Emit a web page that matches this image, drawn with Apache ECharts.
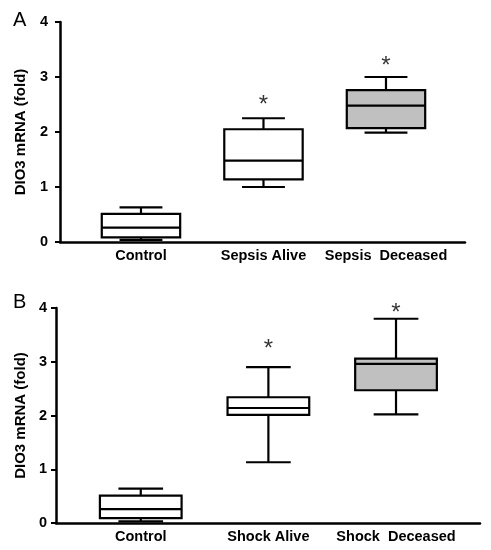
<!DOCTYPE html>
<html>
<head>
<meta charset="utf-8">
<script src="https://cdn.jsdelivr.net/npm/echarts@6/dist/echarts.min.js"></script>
<style>
  html, body { margin: 0; padding: 0; background: #fff; }
  #main { width: 491px; height: 550px; }
</style>
</head>
<body>
<div id="main"></div>
<script>
// panel A: sepsis outcome
var categoriesA = ['Control', 'Sepsis Alive', 'Sepsis  Deceased'];
// [low whisker, Q1, median, Q3, high whisker]
var statsA = [
  [0.04, 0.085, 0.26, 0.51, 0.63],
  [1.0, 1.14, 1.48, 2.05, 2.25],
  [1.99, 2.07, 2.48, 2.76, 3.0]
];
var starsA = [[1, 2.55], [2, 3.27]];

// panel B: septic shock outcome
var categoriesB = ['Control', 'Shock Alive', 'Shock  Deceased'];
var statsB = [
  [0.03, 0.09, 0.26, 0.51, 0.64],
  [1.13, 2.01, 2.14, 2.34, 2.9],
  [2.02, 2.47, 2.96, 3.06, 3.8]
];
var starsB = [[1, 3.3], [2, 3.97]];

var boxFills = ['#ffffff', '#ffffff', '#c0c0c0'];
var yTicks = [0, 1, 2, 3, 4];

var FONT = 'Liberation Sans, Arial, sans-serif';

function toRows(stats) {
  return stats.map(function (s, i) { return [i].concat(s); });
}

function renderBox(params, api) {
  var x = api.value(0);
  var lo = api.coord([x, api.value(1)]);
  var q1 = api.coord([x, api.value(2)]);
  var md = api.coord([x, api.value(3)]);
  var q3 = api.coord([x, api.value(4)]);
  var hi = api.coord([x, api.value(5)]);
  var unit = api.size([1, 0])[0];
  var bw = unit * 0.64, cw = unit * 0.35;
  var cx = lo[0];
  var st = { stroke: '#000', lineWidth: 2.2 };
  return {
    type: 'group',
    children: [
      { type: 'line', shape: { x1: cx, y1: q3[1], x2: cx, y2: hi[1] }, style: st },
      { type: 'line', shape: { x1: cx, y1: q1[1], x2: cx, y2: lo[1] }, style: st },
      { type: 'line', shape: { x1: cx - cw / 2, y1: hi[1], x2: cx + cw / 2, y2: hi[1] }, style: st },
      { type: 'line', shape: { x1: cx - cw / 2, y1: lo[1], x2: cx + cw / 2, y2: lo[1] }, style: st },
      { type: 'rect', shape: { x: cx - bw / 2, y: q3[1], width: bw, height: q1[1] - q3[1] },
        style: { fill: boxFills[params.dataIndex], stroke: '#000', lineWidth: 2.2 } },
      { type: 'line', shape: { x1: cx - bw / 2, y1: md[1], x2: cx + bw / 2, y2: md[1] }, style: st }
    ]
  };
}

function xAxisFor(idx, cats, min, max) {
  return {
    gridIndex: idx, type: 'value', min: min, max: max,
    axisLine: { show: true, onZero: false, lineStyle: { color: '#000', width: 2.5 } },
    axisTick: { show: false },
    splitLine: { show: false },
    axisLabel: {
      customValues: [0, 1, 2],
      formatter: function (v) { return cats[Math.round(v)]; },
      color: '#000', fontWeight: 'bold', fontSize: 14.5, fontFamily: FONT, margin: 6
    }
  };
}

function yAxisFor(idx, gap, labelMargin) {
  return {
    gridIndex: idx, type: 'value', min: yTicks[0], max: yTicks[yTicks.length - 1], interval: 1,
    name: 'DIO3 mRNA (fold)', nameLocation: 'middle', nameGap: gap,
    nameTextStyle: { color: '#000', fontWeight: 'bold', fontSize: 15, fontFamily: FONT },
    axisLine: { show: true, onZero: false, lineStyle: { color: '#000', width: 2.5 } },
    axisTick: { show: true, length: 5, lineStyle: { color: '#000', width: 2 } },
    splitLine: { show: false },
    axisLabel: { color: '#000', fontWeight: 'bold', fontSize: 14.5, fontFamily: FONT, margin: labelMargin }
  };
}

function starSeries(idx, pts) {
  return {
    type: 'scatter', xAxisIndex: idx, yAxisIndex: idx, data: pts,
    symbolSize: 1, itemStyle: { color: 'rgba(0,0,0,0)' }, silent: true,
    label: { show: true, position: 'inside', formatter: '*', color: '#000',
             fontSize: 24, fontFamily: FONT, offset: [0, 4] }
  };
}

var chart = echarts.init(document.getElementById('main'), null, { renderer: 'canvas' });
chart.setOption({
  backgroundColor: '#fff',
  animation: false,
  title: [
    { text: 'A', left: 8, top: 5, textStyle: { fontSize: 20, fontWeight: 'normal', color: '#000', fontFamily: FONT } },
    { text: 'B', left: 8, top: 287, textStyle: { fontSize: 20, fontWeight: 'normal', color: '#000', fontFamily: FONT } }
  ],
  grid: [
    { left: 60, right: 26, top: 22, bottom: 308 },
    { left: 56, right: 11, top: 308, bottom: 27 }
  ],
  xAxis: [
    xAxisFor(0, categoriesA, -0.661, 2.645),
    xAxisFor(1, categoriesB, -0.664, 2.658)
  ],
  yAxis: [yAxisFor(0, 32, 12), yAxisFor(1, 28, 9)],
  series: [
    { type: 'custom', xAxisIndex: 0, yAxisIndex: 0, data: toRows(statsA), renderItem: renderBox,
      encode: { x: 0, y: [1, 2, 3, 4, 5] } },
    starSeries(0, starsA),
    { type: 'custom', xAxisIndex: 1, yAxisIndex: 1, data: toRows(statsB), renderItem: renderBox,
      encode: { x: 0, y: [1, 2, 3, 4, 5] } },
    starSeries(1, starsB)
  ]
});
</script>
</body>
</html>
